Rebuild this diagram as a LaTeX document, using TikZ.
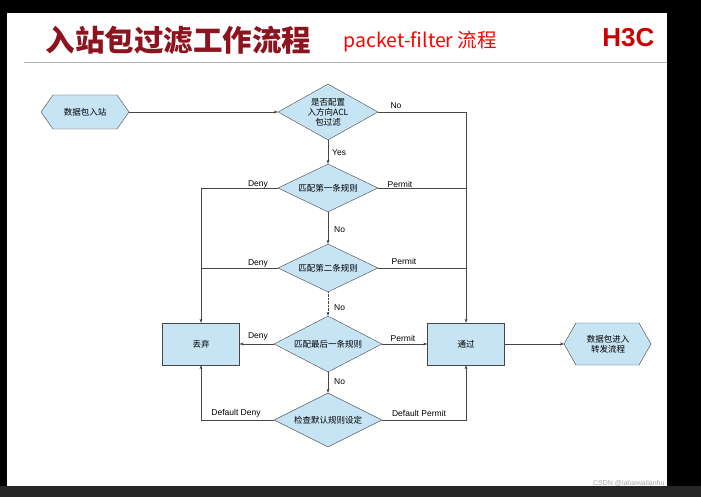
\documentclass[tikz,border=0pt]{standalone}
\usepackage{fontspec}
\setmainfont{Liberation Sans}
\newfontfamily\cjk{Noto Sans CJK SC}
\usetikzlibrary{shapes.geometric,arrows.meta}
\definecolor{boxfill}{RGB}{198,228,244}
\definecolor{edge}{RGB}{70,70,70}
\definecolor{titlered}{RGB}{140,20,30}
\begin{document}
\begin{tikzpicture}[x=1pt,y=-1pt,
  every node/.style={font=\cjk\fontsize{8.5}{10}\selectfont},
  dia/.style={diamond,aspect=1.9,draw=edge,fill=boxfill,inner sep=0pt,align=center,minimum width=#1},
  rbox/.style={rectangle,draw=edge,fill=boxfill,minimum width=77pt,minimum height=42pt},
  arr/.style={draw=edge,-{Stealth[length=4pt,width=3pt]}},
  ln/.style={draw=edge},
  lab/.style={font=\fontsize{8.5}{10}\selectfont,inner sep=1pt}]
\fill[black] (0,0) rectangle (701,497);
\fill[white] (7,13) rectangle (667,486);
\draw[gray!60,line width=1pt] (24,63) -- (667,63);
\fill[black!85] (0,486) rectangle (701,497);
\node[font=\cjk\fontsize{29.5}{31}\selectfont\bfseries,text=titlered,anchor=west] (title) at (42,40) {入站包过滤工作流程};
\node[font=\cjk\fontsize{19.5}{21}\selectfont,text=red,anchor=west] (sub) at (340,42) {packet-filter 流程};
\node[font=\fontsize{26}{28}\selectfont\bfseries,text=red!80!black,anchor=east] (logo) at (658,38) {H3C};
\node[font=\fontsize{7}{8}\selectfont,text=gray!70,anchor=east] (wm) at (668,483) {CSDN @labaiwailanhu};

\path[draw=edge,fill=boxfill] (41,112) -- (53,95) -- (117,95) -- (129,112) -- (117,129) -- (53,129) -- cycle;
\node (start) at (85,112) {数据包入站};
\coordinate (startE) at (129,112);

\node[dia=100pt,minimum height=56pt] (d1) at (328,112) {};
\node[align=center,font=\cjk\fontsize{8.5}{10}\selectfont] (d1t) at (328,112) {是否配置\\入方向ACL\\包过滤};
\node[dia=100pt,minimum height=48pt] (d2) at (328,188) {匹配第一条规则};
\node[dia=100pt,minimum height=48pt] (d3) at (328,268) {匹配第二条规则};
\node[dia=108pt,minimum height=56pt] (d4) at (328,344) {匹配最后一条规则};
\node[dia=108pt,minimum height=54pt] (d5) at (328,420) {检查默认规则设定};

\node[rbox] (drop) at (201,344) {丢弃};
\node[rbox] (pass) at (466,344) {通过};
\path[draw=edge,fill=boxfill] (564,344) -- (576,323) -- (639,323) -- (651,344) -- (639,365) -- (576,365) -- cycle;
\node[align=center,font=\cjk\fontsize{8.5}{10}\selectfont] (end) at (608,344) {数据包进入\\转发流程};
\coordinate (endW) at (564,344);

\path[arr] (startE) -- (d1.west);
\path[arr] (d1.east) -- (d1.east -| pass) -- (pass.north);
\node[lab,anchor=south] at (396,110) {No};
\path[arr] (d1.south) -- (d2.north);
\node[lab,anchor=west] at (331,153) {Yes};
\path[ln] (d2.west) -- (d2.west -| drop);
\path[ln] (d2.east) -- (d2.east -| pass);
\node[lab,anchor=south] at (258,189) {Deny};
\node[lab,anchor=south] at (400,189) {Permit};
\path[arr] (d2.south) -- (d3.north);
\node[lab,anchor=west] at (333,230) {No};
\path[ln] (d3.west) -- (d3.west -| drop);
\path[ln] (d3.east) -- (d3.east -| pass);
\node[lab,anchor=south] at (258,268) {Deny};
\node[lab,anchor=south] at (404,266) {Permit};
\path[arr] (d2.west -| drop) -- (drop.north);
\path[arr,densely dotted] (d3.south) -- (d4.north);
\node[lab,anchor=west] at (333,308) {No};
\path[arr] (d4.west) -- (drop.east);
\path[arr] (d4.east) -- (pass.west);
\node[lab,anchor=south] at (258,341) {Deny};
\node[lab,anchor=south] at (403,343) {Permit};
\path[arr] (d4.south) -- (d5.north);
\node[lab,anchor=west] at (333,382) {No};
\path[arr] (d5.west) -- (d5.west -| drop) -- (drop.south);
\path[arr] (d5.east) -- (d5.east -| pass) -- (pass.south);
\node[lab,anchor=south] at (236,418) {Default Deny};
\node[lab,anchor=south] at (419,418) {Default Permit};
\path[arr] (pass.east) -- (endW);
\end{tikzpicture}
\end{document}
